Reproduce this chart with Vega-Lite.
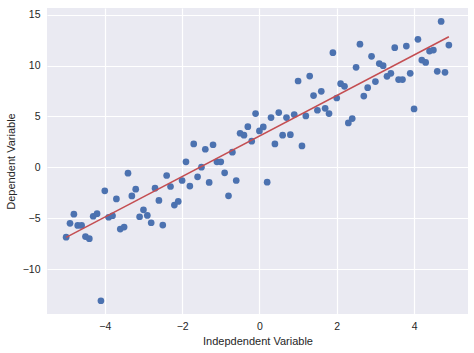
{
  "$schema": "https://vega.github.io/schema/vega-lite/v6.json",
  "autosize": {"type": "none"},
  "width": 421,
  "height": 306,
  "padding": {"left": 47, "top": 8, "right": 6, "bottom": 39},
  "background": "white",
  "datasets": {
    "points": [
    {"x": -5.0, "y": -6.86}, {"x": -4.9, "y": -5.5}, {"x": -4.8, "y": -4.6}, {"x": -4.7, "y": -5.7}, {"x": -4.6, "y": -5.7},
    {"x": -4.5, "y": -6.8}, {"x": -4.4, "y": -7.0}, {"x": -4.3, "y": -4.8}, {"x": -4.2, "y": -4.55}, {"x": -4.1, "y": -13.1},
    {"x": -4.0, "y": -2.3}, {"x": -3.9, "y": -4.9}, {"x": -3.8, "y": -4.75}, {"x": -3.7, "y": -3.1}, {"x": -3.6, "y": -6.06},
    {"x": -3.5, "y": -5.86}, {"x": -3.4, "y": -0.57}, {"x": -3.3, "y": -2.8}, {"x": -3.2, "y": -2.14}, {"x": -3.1, "y": -4.85},
    {"x": -3.0, "y": -4.17}, {"x": -2.9, "y": -4.72}, {"x": -2.8, "y": -5.44}, {"x": -2.7, "y": -2.04}, {"x": -2.6, "y": -3.25},
    {"x": -2.5, "y": -5.67}, {"x": -2.4, "y": -0.8}, {"x": -2.3, "y": -1.88}, {"x": -2.2, "y": -3.7}, {"x": -2.1, "y": -3.35},
    {"x": -2.0, "y": -1.29}, {"x": -1.9, "y": 0.54}, {"x": -1.8, "y": -1.84}, {"x": -1.7, "y": 2.3}, {"x": -1.6, "y": -0.93},
    {"x": -1.5, "y": 0.02}, {"x": -1.4, "y": 1.78}, {"x": -1.3, "y": -1.48}, {"x": -1.2, "y": 2.22}, {"x": -1.1, "y": 0.54},
    {"x": -1.0, "y": 0.54}, {"x": -0.9, "y": -0.54}, {"x": -0.8, "y": -2.79}, {"x": -0.7, "y": 1.49}, {"x": -0.6, "y": -1.29},
    {"x": -0.5, "y": 3.35}, {"x": -0.4, "y": 3.16}, {"x": -0.3, "y": 4.0}, {"x": -0.2, "y": 2.57}, {"x": -0.1, "y": 5.28},
    {"x": 0.0, "y": 3.58}, {"x": 0.1, "y": 3.97}, {"x": 0.2, "y": -1.45}, {"x": 0.3, "y": 4.89}, {"x": 0.4, "y": 2.3},
    {"x": 0.5, "y": 5.38}, {"x": 0.6, "y": 3.16}, {"x": 0.7, "y": 4.89}, {"x": 0.8, "y": 3.21}, {"x": 0.9, "y": 5.18},
    {"x": 1.0, "y": 8.48}, {"x": 1.1, "y": 2.11}, {"x": 1.2, "y": 5.05}, {"x": 1.3, "y": 8.97}, {"x": 1.4, "y": 7.05},
    {"x": 1.5, "y": 5.61}, {"x": 1.6, "y": 7.47}, {"x": 1.7, "y": 5.8}, {"x": 1.8, "y": 5.28}, {"x": 1.9, "y": 11.26},
    {"x": 2.0, "y": 6.81}, {"x": 2.1, "y": 8.22}, {"x": 2.2, "y": 7.96}, {"x": 2.3, "y": 4.36}, {"x": 2.4, "y": 4.79},
    {"x": 2.5, "y": 9.82}, {"x": 2.6, "y": 12.1}, {"x": 2.7, "y": 7.0}, {"x": 2.8, "y": 7.83}, {"x": 2.9, "y": 10.9},
    {"x": 3.0, "y": 8.42}, {"x": 3.1, "y": 10.19}, {"x": 3.2, "y": 9.99}, {"x": 3.3, "y": 8.94}, {"x": 3.4, "y": 9.24},
    {"x": 3.5, "y": 11.75}, {"x": 3.6, "y": 8.62}, {"x": 3.7, "y": 8.62}, {"x": 3.8, "y": 11.91}, {"x": 3.9, "y": 9.24},
    {"x": 4.0, "y": 5.74}, {"x": 4.1, "y": 12.57}, {"x": 4.2, "y": 10.54}, {"x": 4.3, "y": 10.31}, {"x": 4.4, "y": 11.42},
    {"x": 4.5, "y": 11.52}, {"x": 4.6, "y": 9.43}, {"x": 4.7, "y": 14.33}, {"x": 4.8, "y": 9.33}, {"x": 4.9, "y": 12.01}
    ],
    "fit": [{"x": -5.0, "y": -6.87}, {"x": 4.9, "y": 12.83}]
  },
  "encoding": {
    "x": {"field": "x", "type": "quantitative",
      "scale": {"domain": [-5.495, 5.395], "nice": false, "zero": false},
      "axis": {"title": "Indepdendent Variable", "values": [-4, -2, 0, 2, 4], "labelPadding": 7, "titlePadding": 4}},
    "y": {"field": "y", "type": "quantitative",
      "scale": {"domain": [-14.4, 15.65], "nice": false, "zero": false},
      "axis": {"title": "Dependent Variable", "values": [-10, -5, 0, 5, 10, 15], "labelPadding": 7, "titlePadding": 6}}
  },
  "layer": [
    {"data": {"name": "points"},
     "mark": {"type": "point", "filled": true, "opacity": 1, "size": 45, "color": "#4C72B0"}},
    {"data": {"name": "fit"},
     "mark": {"type": "line", "color": "#C44E52", "strokeWidth": 1.5}}
  ],
  "config": {
    "view": {"fill": "#EAEAF2", "stroke": null},
    "font": "Liberation Sans",
    "axis": {
      "domain": false, "ticks": false,
      "grid": true, "gridColor": "#FFFFFF", "gridWidth": 1.2, "gridOpacity": 1,
      "labelColor": "#262626", "labelFontSize": 10.5,
      "titleColor": "#262626", "titleFontSize": 11, "titleFontWeight": "normal"
    }
  }
}
